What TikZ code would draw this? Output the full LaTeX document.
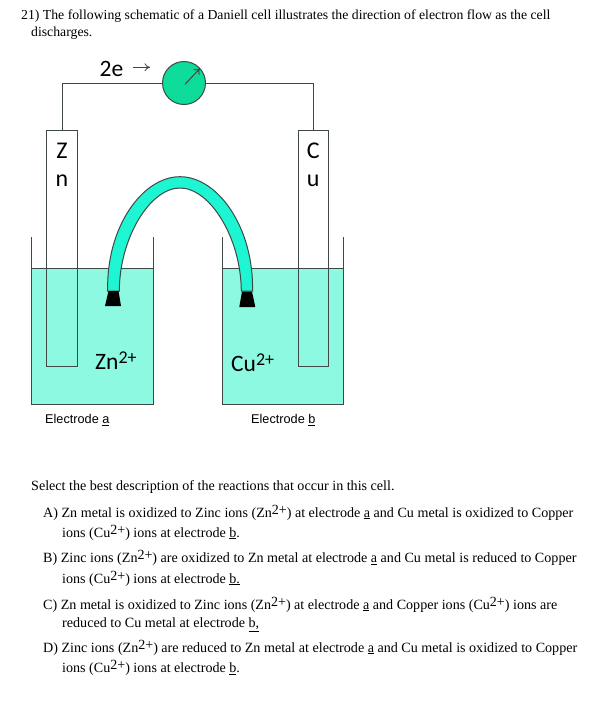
\documentclass[tikz,border=0pt]{standalone}
\usepackage{fontspec}
\setmainfont{Liberation Serif}
\newfontfamily\labelfont{Carlito}
\newfontfamily\capfont{Liberation Sans}
\usepackage{tikz}
\usetikzlibrary{arrows.meta}

\definecolor{solcol}{HTML}{8CF9E0}
\definecolor{bridgecol}{HTML}{1EF5D2}
\definecolor{metercol}{HTML}{0DDC9B}
\definecolor{linecol}{HTML}{404848}

% raised charge in the question text
\newcommand{\ionup}[1]{\raisebox{3pt}{\fontsize{14}{16}\selectfont #1}}
\newcommand{\ionlab}[1]{\raisebox{6pt}{\fontsize{18}{20}\selectfont #1}}

\begin{document}
\begin{tikzpicture} [x=1pt,y=-1pt,
    wire/.style={draw=linecol,line width=1pt},
    tip/.style={-{To[length=5.5pt,width=8pt]}},
    txt/.style={anchor=base west,inner sep=0pt,font=\fontsize{14.1}{16}\selectfont},
    toptxt/.style={anchor=base west,inner sep=0pt,font=\fontsize{13.75}{16}\selectfont},
    letter/.style={anchor=base,inner sep=0pt,font=\labelfont\fontsize{24}{26}\selectfont},
    ion/.style={anchor=base west,inner sep=0pt,font=\labelfont\fontsize{23.5}{26}\selectfont},
    captxt/.style={anchor=base west,inner sep=0pt,font=\capfont\fontsize{12.7}{14}\selectfont},
    sol/.style={rectangle,wire,fill=solcol,outer sep=0pt,inner sep=0pt,minimum width=122.3pt,minimum height=136.3pt},
    rod/.style={rectangle,wire,outer sep=0pt,inner sep=0pt,minimum width=30.6pt,minimum height=236pt}]
    \useasboundingbox (0,0) rectangle (594,709);

    % question
    \node[toptxt] (q1) at (21,20) {21) The following schematic of a Daniell cell illustrates the direction of electron flow as the cell};
    \node[toptxt] (q2) at (31,37) {discharges.};

    % solutions
    \node[sol] (sola) at (92.2,336.2) {};
    \node[sol,minimum width=121.7pt] (solb) at (282.9,336.2) {};
    \draw[wire] (sola.north west) -- ++(0,-31);
    \draw[wire] (sola.north east) -- ++(0,-31);
    \draw[wire] (solb.north west) -- ++(0,-31);
    \draw[wire] (solb.north east) -- ++(0,-31);

    % electrodes
    \node[rod] (zn) at (62,248.7) {};
    \node[rod] (cu) at (313.3,248.7) {};
    \node[letter] (z) at (62,158.3) {Z};
    \node[letter] (n) at (62,186) {n};
    \node[letter] (c) at (313.3,158.3) {C};
    \node[letter] (u) at (313.3,186) {u};

    % meter
    \node[circle,wire,fill=metercol,minimum size=43pt,inner sep=0pt,outer sep=0pt] (meter) at (184,83) {};
    \coordinate (n1) at (185,84.3);
    \coordinate (n2) at (200,68.3);
    \draw[wire,tip] (n1) -- (n2);
    \draw[wire] (meter.west) -| (zn.north);
    \draw[wire] (meter.east) -| (cu.north);

    % electron flow
    \node[ion] (e) at (99.5,76) {2e};
    \coordinate (f1) at (132.7,67.3);
    \coordinate (f2) at (150,67.3);
    \draw[draw=linecol,line width=.8pt,tip] (f1) -- (f2);

    % salt bridge
    \draw[wire,fill=bridgecol] (107.7,291) .. controls (106,228) and (142,176.7) .. (180,176.7)
        .. controls (218,176.7) and (254,228) .. (252.5,291) -- (241.3,291)
        .. controls (241,238) and (210,188) .. (180,188)
        .. controls (150,188) and (119.5,238) .. (119.3,291) -- cycle;
    \fill[black] (108.5,291) -- (118.5,291) -- (121,306) -- (105,306) -- cycle;
    \fill[black] (242,291.5) -- (252,291.5) -- (255.3,307) -- (239.3,307) -- cycle;

    % ions
    \node[ion] (zn2) at (95,369) {Zn\ionlab{2+}};
    \node[ion] (cu2) at (231,371.7) {Cu\ionlab{2+}};

    % electrode captions
    \node[captxt] (capa) at (45,423.5) {Electrode \underline{a}};
    \node[captxt] (capb) at (251,423.5) {Electrode \underline{b}};

    % answers
    \node[txt] (s) at (31,490.5) {Select the best description of the reactions that occur in this cell.};
    \node[txt] (a1) at (43,517) {A) Zn metal is oxidized to Zinc ions (Zn\ionup{2+}) at electrode \underline{a} and Cu metal is oxidized to Copper};
    \node[txt] (a2) at (62,537) {ions (Cu\ionup{2+}) ions at electrode \underline{b}.};
    \node[txt] (b1) at (43,562.5) {B) Zinc ions (Zn\ionup{2+}) are oxidized to Zn metal at electrode \underline{a} and Cu metal is reduced to Copper};
    \node[txt] (b2) at (62,583) {ions (Cu\ionup{2+}) ions at electrode \underline{b.}};
    \node[txt] (c1) at (43,609) {C) Zn metal is oxidized to Zinc ions (Zn\ionup{2+}) at electrode \underline{a} and Copper ions (Cu\ionup{2+}) ions are};
    \node[txt] (c2) at (62,627.5) {reduced to Cu metal at electrode \underline{b,}};
    \node[txt] (d1) at (43,652) {D) Zinc ions (Zn\ionup{2+}) are reduced to Zn metal at electrode \underline{a} and Cu metal is oxidized to Copper};
    \node[txt] (d2) at (62,672.5) {ions (Cu\ionup{2+}) ions at electrode \underline{b}.};
\end{tikzpicture}
\end{document}
